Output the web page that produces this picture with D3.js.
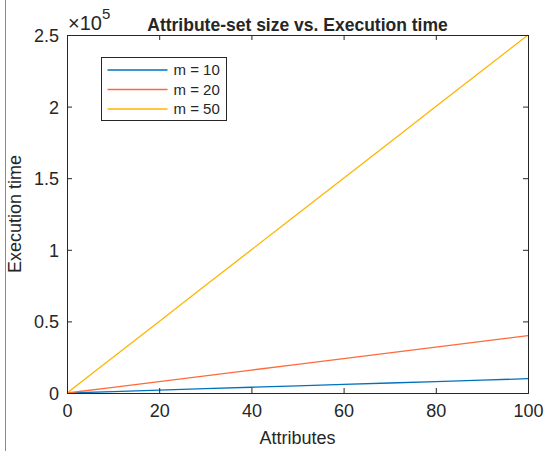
<!DOCTYPE html>
<html>
<head>
<meta charset="utf-8">
<script src="https://cdn.jsdelivr.net/npm/d3@7"></script>
<style>
  body { margin: 0; background: #fff; }
  text { font-family: "Liberation Sans", Arial, sans-serif; fill: #262626; }
</style>
</head>
<body>
<script>
// values
const attributes = [0, 10, 20, 30, 40, 50, 60, 70, 80, 90, 100];
const m10 = [0, 1000, 2000, 3000, 4000, 5000, 6000, 7000, 8000, 9000, 10000];
const m20 = [0, 4000, 8000, 12000, 16000, 20000, 24000, 28000, 32000, 36000, 40000];
const m50 = [0, 25000, 50000, 75000, 100000, 125000, 150000, 175000, 200000, 225000, 250000];
const seriesNames = ["m = 10", "m = 20", "m = 50"];
const colors = ["#0072BD", "#FF6A3A", "#FFB400"];
const xTicks = [0, 20, 40, 60, 80, 100];
const yTicks = [0, 50000, 100000, 150000, 200000, 250000];

const width = 550, height = 451;
const margin = {left: 67, right: 22, top: 35, bottom: 58};

const svg = d3.select('body').append('svg')
    .attr('width', width)
    .attr('height', height);

// figure edge line on the left
svg.append('line')
    .attr('x1', 5.5).attr('x2', 5.5)
    .attr('y1', 0).attr('y2', height)
    .attr('stroke', '#8c8c8c').attr('stroke-width', 1);

const x = d3.scaleLinear().domain([0, 100]).range([margin.left, width - margin.right]);
const y = d3.scaleLinear().domain([0, 250000]).range([height - margin.bottom, margin.top]);

const series = [m10, m20, m50];
const line = d3.line()
    .x((d, i) => x(attributes[i]))
    .y(d => y(d));

svg.selectAll('.series')
    .data(series)
    .enter().append('path')
    .attr('class', 'series')
    .attr('d', d => line(d))
    .attr('fill', 'none')
    .attr('stroke', (d, i) => colors[i])
    .attr('stroke-width', 1.3);

// axes (ticks inward, like MATLAB)
const tickLen = 5;
const xAxis = svg.append('g')
    .attr('transform', `translate(0,${y(0)})`)
    .call(d3.axisBottom(x).tickValues(xTicks).tickSize(-tickLen).tickPadding(10));
const xAxisTop = svg.append('g')
    .attr('transform', `translate(0,${y(250000)})`)
    .call(d3.axisTop(x).tickValues(xTicks).tickSize(-tickLen).tickFormat(''));
const yAxis = svg.append('g')
    .attr('transform', `translate(${x(0)},0)`)
    .call(d3.axisLeft(y).tickValues(yTicks).tickSize(-tickLen).tickPadding(8)
        .tickFormat(d => d3.format('~g')(d / 1e5)));
const yAxisRight = svg.append('g')
    .attr('transform', `translate(${x(100)},0)`)
    .call(d3.axisRight(y).tickValues(yTicks).tickSize(-tickLen).tickFormat(''));

[xAxis, xAxisTop, yAxis, yAxisRight].forEach(a => {
    a.select('.domain').attr('stroke', '#262626').attr('stroke-width', 1);
    a.selectAll('.tick line').attr('stroke', '#262626');
    a.selectAll('.tick text')
        .style('font-family', '"Liberation Sans", Arial, sans-serif')
        .style('font-size', '18px')
        .attr('fill', '#262626');
});
xAxis.selectAll('.tick text').attr('dy', '0.75em');
yAxis.selectAll('.tick text').attr('dy', '0.36em');

// exponent label
const expo = svg.append('text')
    .attr('x', x(0) + 1)
    .attr('y', 30)
    .style('font-size', '20px');
expo.append('tspan').text('\u00d710');
expo.append('tspan').attr('dy', -11).style('font-size', '15px').text('5');

// title
svg.append('text')
    .attr('x', (x(0) + x(100)) / 2)
    .attr('y', 31)
    .attr('text-anchor', 'middle')
    .style('font-size', '17.5px')
    .style('font-weight', 'bold')
    .attr('fill', '#000')
    .text('Attribute-set size vs. Execution time');

// axis labels
svg.append('text')
    .attr('x', (x(0) + x(100)) / 2)
    .attr('y', 444)
    .attr('text-anchor', 'middle')
    .style('font-size', '18px')
    .text('Attributes');

svg.append('text')
    .attr('transform', `translate(21,${(y(0) + y(250000)) / 2}) rotate(-90)`)
    .attr('text-anchor', 'middle')
    .style('font-size', '18px')
    .text('Execution time');

// legend
const legend = svg.append('g').attr('transform', 'translate(101.5,57.5)');
legend.append('rect')
    .attr('width', 125).attr('height', 63)
    .attr('fill', '#fff')
    .attr('stroke', '#262626').attr('stroke-width', 1);
seriesNames.forEach((name, i) => {
    const ly = 12.5 + i * 19.5;
    legend.append('line')
        .attr('x1', 6).attr('x2', 66)
        .attr('y1', ly).attr('y2', ly)
        .attr('stroke', colors[i]).attr('stroke-width', 1.5);
    legend.append('text')
        .attr('x', 72).attr('y', ly)
        .attr('dy', '0.36em')
        .style('font-size', '15px')
        .attr('fill', '#000')
        .text(name);
});
</script>
</body>
</html>
